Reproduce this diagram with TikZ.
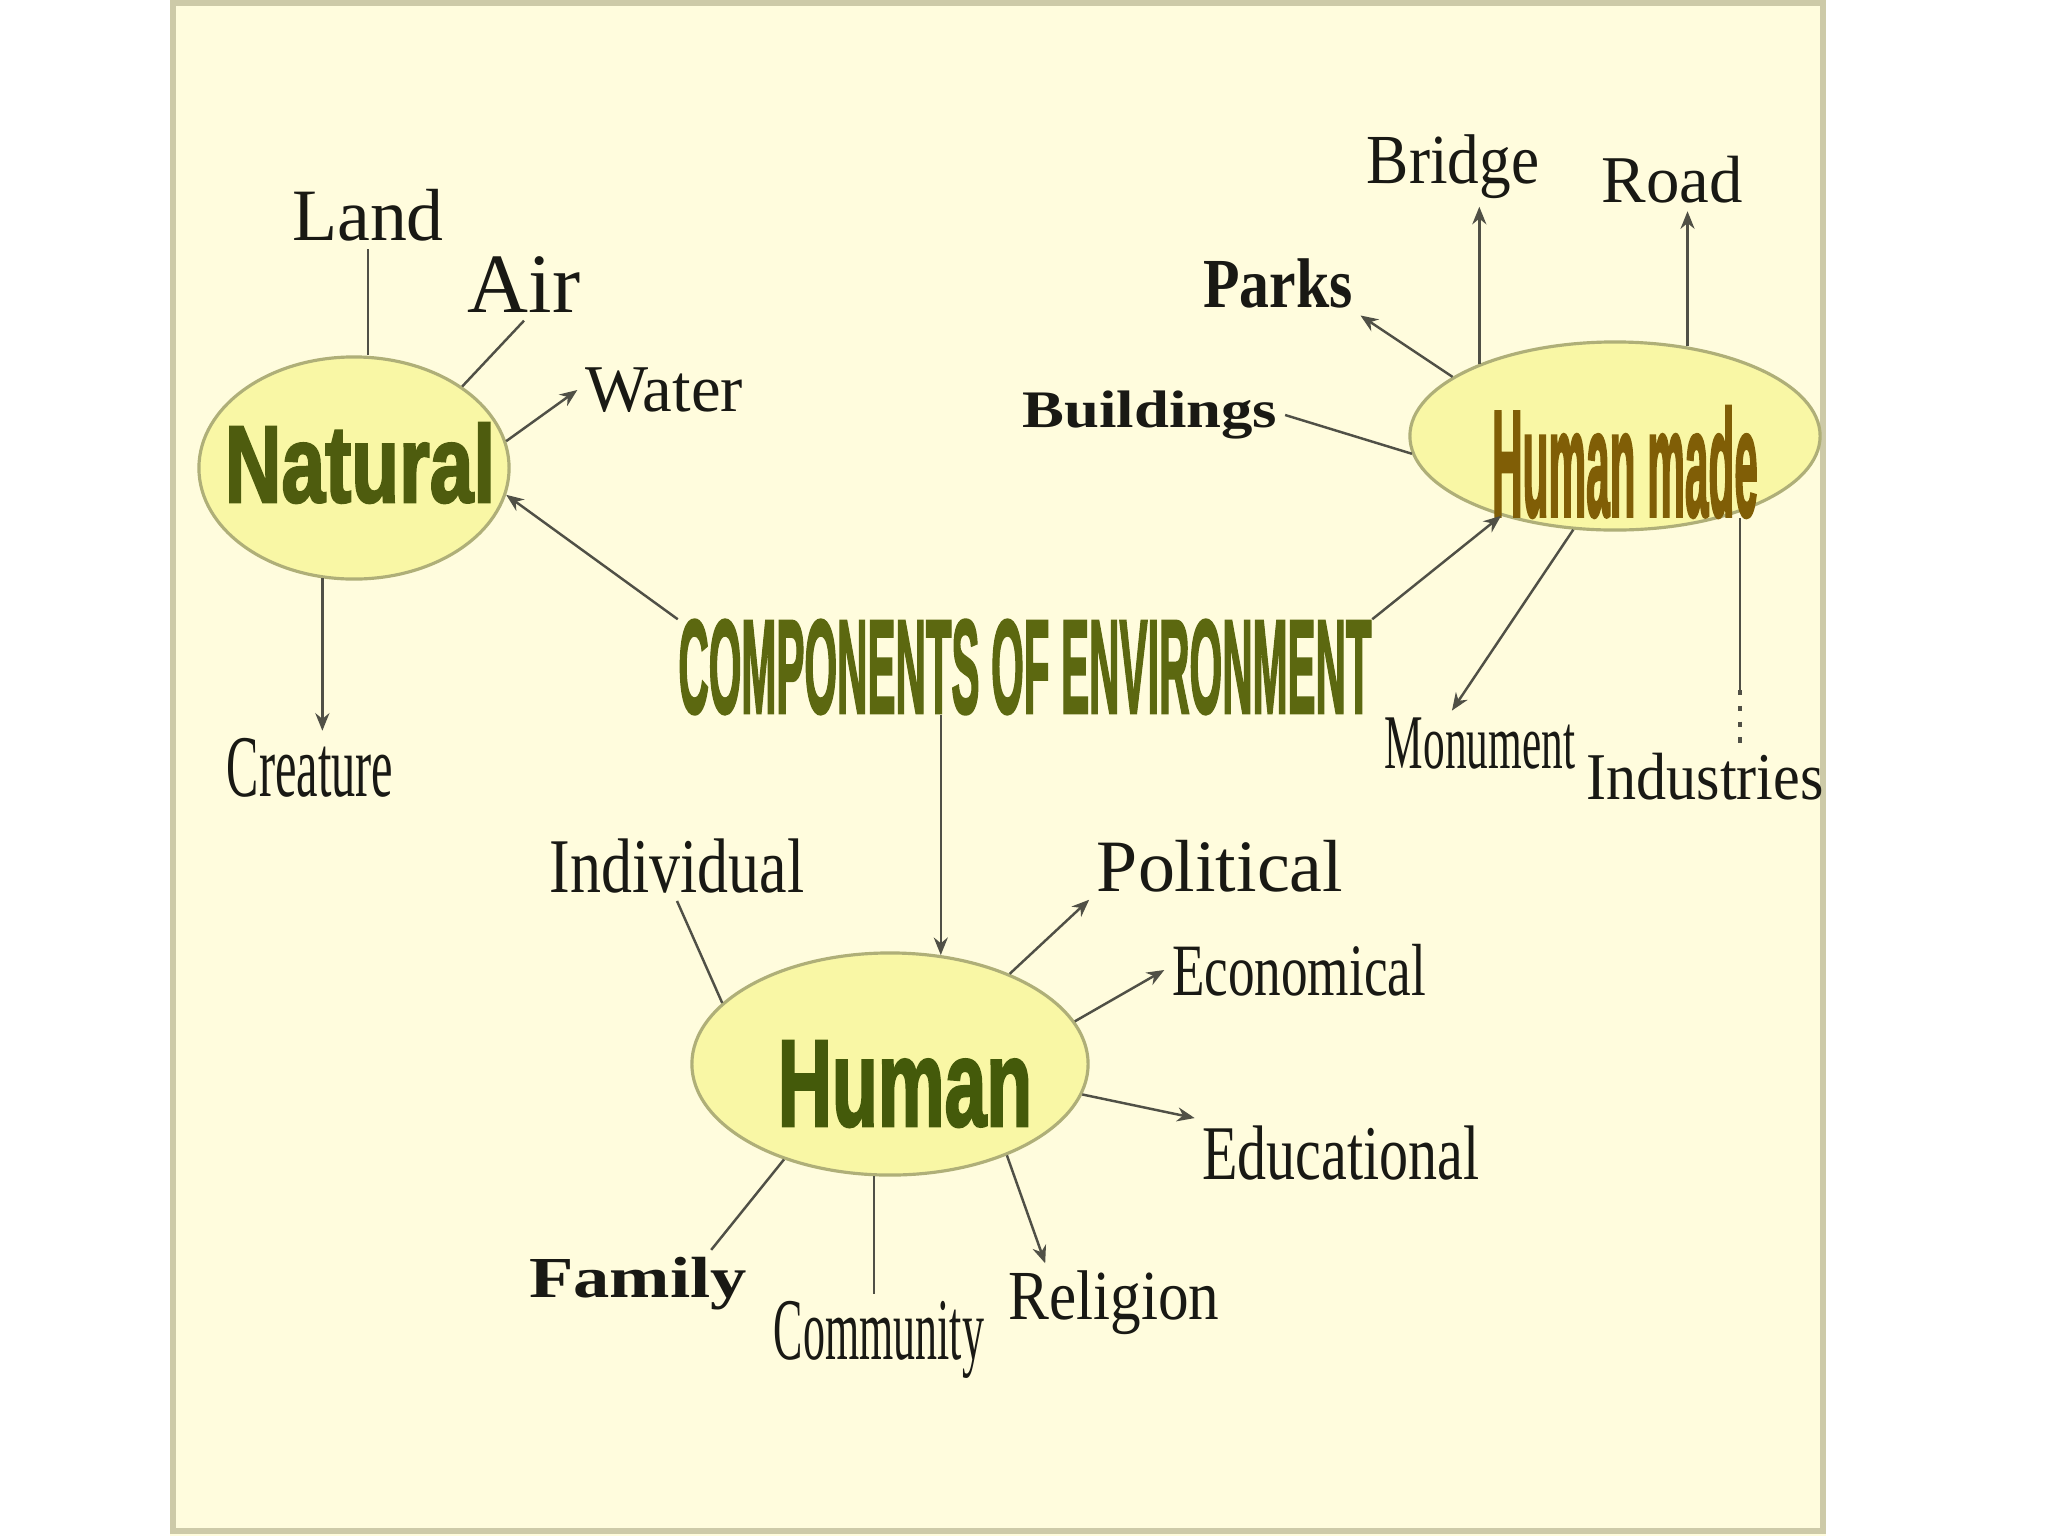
\documentclass[tikz,border=0pt]{standalone}
\usepackage{fontspec}
\setmainfont{Liberation Serif}
\newfontfamily\ttlfont{Liberation Sans}[BoldFeatures={FakeBold=2.5}]
\usetikzlibrary{shapes.geometric,arrows.meta}
\definecolor{cream}{RGB}{255,252,221}
\definecolor{framecol}{RGB}{205,202,168}
\definecolor{ellfill}{RGB}{249,247,165}
\definecolor{ellline}{RGB}{175,175,120}
\definecolor{lncol}{RGB}{80,80,70}
\definecolor{txt}{RGB}{25,25,20}
\definecolor{natcol}{RGB}{78,92,14}
\definecolor{hmcol}{RGB}{128,94,6}
\definecolor{hucol}{RGB}{68,90,10}
\definecolor{compcol}{RGB}{92,104,16}
\newcommand\fsz[1]{\fontsize{#1}{#1}\selectfont}
\begin{document}
\begin{tikzpicture}[x=0.01cm,y=-0.01cm,
  ell/.style={ellipse,draw=ellline,fill=ellfill,line width=0.9pt,inner sep=0pt},
  ttl/.style={inner sep=0pt},
  lbl/.style={inner sep=2pt,text=txt},
  conn/.style={draw=lncol,line width=0.7pt},
  tip/.style={conn,-{Stealth[length=5pt,width=4pt]}}]
\useasboundingbox (0,0) rectangle (2048,1536);
\fill[white] (0,0) rectangle (2048,1536);
\fill[cream] (170,0) rectangle (1826,1536);
\draw[framecol,line width=1.6pt] (173,3) rectangle (1823,1531);
% ellipses
\node[ell,minimum width=3.10cm,minimum height=2.22cm] (nat) at (354,468) {};
\node[ell,minimum width=4.10cm,minimum height=1.88cm] (hm) at (1615,436) {};
\node[ell,minimum width=3.96cm,minimum height=2.22cm] (hu) at (890,1064) {};
% titles
\node[ttl,text=natcol,font=\ttlfont\bfseries\fsz{31}] (natT) at (360,463) {\scalebox{0.72}[1]{Natural}};
\node[ttl,text=hmcol,font=\ttlfont\bfseries\fsz{43}] (hmT) at (1625,462) {\scalebox{0.28}[1]{Human made}};
\node[ttl,text=hucol,font=\ttlfont\bfseries\fsz{35}] (huT) at (905,1084) {\scalebox{0.61}[1]{Human}};
\node[ttl,text=compcol,font=\ttlfont\bfseries\fsz{37.8}] (comp) at (1025,667) {\scalebox{0.316}[1]{COMPONENTS OF ENVIRONMENT}};
% labels
\node[lbl,font=\fsz{21}] (land) at (368,215) {Land};
\node[lbl,font=\fsz{24}] (air) at (524,285) {Air};
\node[lbl,font=\fsz{19}] (water) at (664,390) {Water};
\node[lbl,font=\fsz{25}] (creature) at (310,768) {\scalebox{0.55}[1]{Creature}};
\node[lbl,font=\fsz{20}] (bridge) at (1453,167) {\scalebox{0.9}[1]{Bridge}};
\node[lbl,font=\fsz{19}] (road) at (1672,180) {Road};
\node[lbl,font=\bfseries\fsz{20}] (parks) at (1278,283) {\scalebox{0.85}[1]{Parks}};
\node[lbl,font=\bfseries\fsz{15}] (buildings) at (1150,415) {\scalebox{1.19}[1]{Buildings}};
\node[lbl,font=\fsz{22}] (monument) at (1480,744) {\scalebox{0.56}[1]{Monument}};
\node[lbl,font=\fsz{19}] (industries) at (1705,777) {\scalebox{0.9}[1]{Industries}};
\node[lbl,font=\fsz{22}] (individual) at (677,866) {\scalebox{0.8}[1]{Individual}};
\node[lbl,font=\fsz{21}] (political) at (1220,866) {Political};
\node[lbl,font=\fsz{21}] (economical) at (1299,970) {\scalebox{0.72}[1]{Economical}};
\node[lbl,font=\fsz{22}] (educational) at (1341,1153) {\scalebox{0.75}[1]{Educational}};
\node[lbl,font=\bfseries\fsz{16.5}] (family) at (638,1284) {\scalebox{1.25}[1]{Family}};
\node[lbl,font=\fsz{25}] (community) at (879,1340) {\scalebox{0.5}[1]{Community}};
\node[lbl,font=\fsz{20}] (religion) at (1114,1303) {\scalebox{0.87}[1]{Religion}};
% connectors: natural
\draw[conn] (land.south |- nat.north) -- (land.south);
\draw[conn] (nat.37) -- (air.south);
\draw[tip] (nat.10) -- (water.west);
\draw[tip] (nat.254) -- (nat.254 |- creature.north);
% connectors: components
\draw[tip] (comp.north west) -- (nat.-10);
\draw[tip] (comp.north east) -- (hm.215);
\draw[tip] (hu.65 |- comp.south) -- (hu.65);
% connectors: human made
\draw[tip] (hm.152) -- (hm.152 |- bridge.south);
\draw[tip] (hm.51) -- (hm.51 |- road.south);
\draw[tip] (hm.160) -- (parks.south east);
\draw[conn] (buildings.east) -- (hm.185);
\draw[tip] (hm.246) -- (monument.130);
\coordinate (indtop) at (1740,518);
\coordinate (inddot) at (1740,690);
\draw[conn] (indtop) -- (inddot);
\draw[conn,line width=1.4pt,dash pattern=on 1.5pt off 3pt] (inddot) -- (inddot |- industries.north);
% connectors: human
\draw[conn] (hu.160) -- (individual.south);
\draw[tip] (hu.37) -- (political.south west);
\draw[tip] (hu.13) -- (economical.west);
\draw[tip] (hu.-9) -- (educational.north west);
\draw[conn] (hu.222) -- (family.25);
\draw[conn] (hu.262) -- (hu.262 |- community.north);
\draw[tip] (hu.-38) -- (religion.150);
\end{tikzpicture}
\end{document}
